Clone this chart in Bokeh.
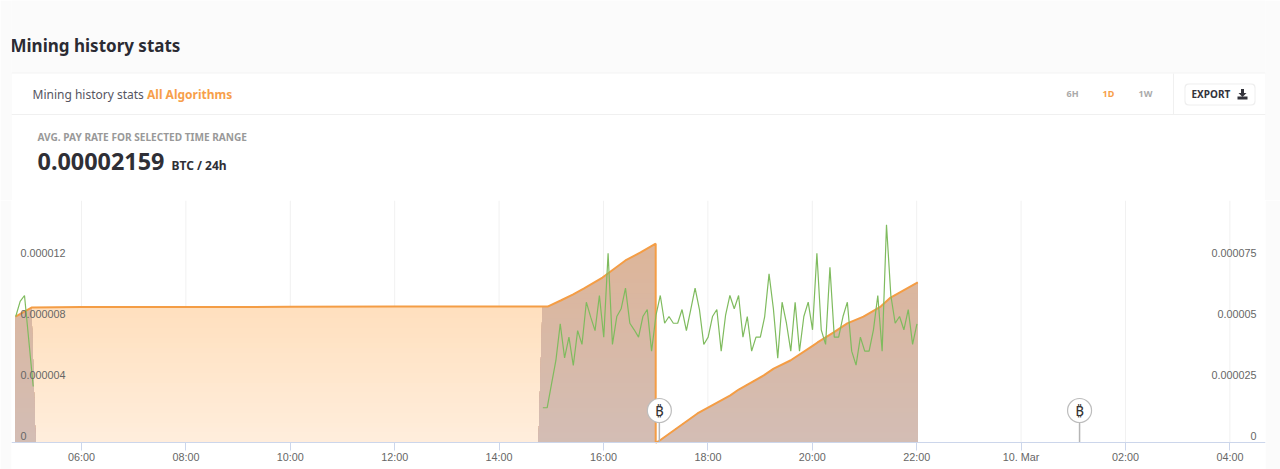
import numpy as np
from bokeh.core.properties import value
from bokeh.embed import file_html
from bokeh.layouts import column
from bokeh.models import FixedTicker, LinearAxis, Range1d
from bokeh.plotting import figure
from bokeh.resources import INLINE

# ---- data ----
X_TICKS = [6, 8, 10, 12, 14, 16, 18, 20, 22, 24, 26, 28]
X_LABELS = ["06:00", "08:00", "10:00", "12:00", "14:00", "16:00", "18:00", "20:00", "22:00", "10. Mar", "02:00", "04:00"]
LEFT_TICKS = [0, 4e-6, 8e-6, 12e-6]
LEFT_LABELS = ["0", "0.000004", "0.000008", "0.000012"]
RIGHT_TICKS = [0, 25e-6, 50e-6, 75e-6]
RIGHT_LABELS = ["0", "0.000025", "0.00005", "0.000075"]

ORANGE_H = [4.736, 5.042, 6.0, 8.0, 10.0, 12.0, 14.0, 14.93, 15.18, 15.42, 15.62, 15.98, 16.42, 16.71, 17.0,
            17.0, 17.05, 17.8, 18.43, 18.59, 19.07, 19.26, 19.58, 20.02, 20.1, 20.41, 20.67, 20.98, 21.31, 21.5, 22.02]
ORANGE_V = [5.16, 5.53, 5.55, 5.55, 5.56, 5.57, 5.57, 5.57, 5.82, 6.07, 6.31, 6.76, 7.46, 7.79, 8.15,
            0.0, 0.04, 1.19, 1.93, 2.17, 2.75, 3.03, 3.36, 3.98, 4.10, 4.51, 4.88, 5.16, 5.57, 5.94, 6.56]

BROWN_H = [4.736, 5.042, 5.12, 14.755, 14.83, 14.93, 15.18, 15.42, 15.62, 15.98, 16.42, 16.71, 17.0,
           17.0, 17.05, 17.8, 18.43, 18.59, 19.07, 19.26, 19.58, 20.02, 20.1, 20.41, 20.67, 20.98, 21.31, 21.5, 22.02]
BROWN_V = [5.16, 5.53, 0.0, 0.0, 5.57, 5.57, 5.82, 6.07, 6.31, 6.76, 7.46, 7.79, 8.15,
           0.0, 0.04, 1.19, 1.93, 2.17, 2.75, 3.03, 3.36, 3.98, 4.10, 4.51, 4.88, 5.16, 5.57, 5.94, 6.56]

GREEN_A_H = [4.74, 4.825, 4.908, 5.075]
GREEN_A_V = [8.26, 9.25, 9.64, 3.67]
GREEN_B_START = 14.838
GREEN_B_STEP = 1 / 12
GREEN_B_V = [2.28, 2.28, 3.85, 5.38, 7.78, 5.55, 6.91, 5.05, 7.34, 6.43, 9.2, 8.22, 7.34, 9.64, 6.91, 12.41,
             6.43, 8.26, 8.77, 10.12, 7.82, 7.39, 6.91, 8.26, 8.72, 5.99, 8.33, 9.64, 7.82, 8.26, 7.82, 7.82,
             8.72, 7.34, 8.72, 10.12, 8.72, 6.43, 6.91, 8.26, 8.72, 5.99,
             8.33, 9.64, 8.77, 9.64, 6.91, 8.26, 5.99, 6.91, 6.91, 8.26, 11.06, 8.77, 5.53, 9.2, 7.82, 5.99,
             9.2, 5.99, 8.26, 9.2, 7.39, 12.41, 7.39, 6.43, 11.49, 6.91, 6.91, 8.26, 9.2, 5.99, 5.07, 6.91,
             5.99, 5.99, 7.39, 9.64, 5.99, 14.27, 9.64, 7.82, 8.26, 7.39, 8.72, 6.43, 7.78]

FLAG_H = [17.07, 25.12]
FLAG_V = [2.1e-6, 2.1e-6]
FLAG_STEM = [1.3e-6, 1.3e-6]

# ---- styles / layout ----
PX_PER_H = 52.2
def px_to_h(px):
    return 6 + (px - 81) / PX_PER_H

PAGE_BG = "#fbfbfb"
LINE_ORANGE = "#f49d45"
GREEN = "#7fbb5e"
TICK_COL = "#666666"
AXIS_COL = "#ccd6eb"
SANS = "Noto Sans"
CHART_FONT = "Liberation Sans"
TICK_SIZE = "10.8px"
LEFT_PER_PX = 4e-6 / 61
RIGHT_PER_PX = 25e-6 / 61


def densify(h, v, levels):
    """Add the points where the series crosses each band edge, so clipped bands keep the outline."""
    xs, ys = [h[0]], [v[0]]
    for i in range(len(h) - 1):
        lo, hi = sorted((v[i], v[i + 1]))
        cross = [l for l in levels if lo < l < hi]
        cross.sort(reverse=v[i + 1] < v[i])
        for l in cross:
            xs.append(h[i] + (l - v[i]) / (v[i + 1] - v[i]) * (h[i + 1] - h[i]))
            ys.append(l)
        xs.append(h[i + 1])
        ys.append(v[i + 1])
    return np.array(xs), np.array(ys)


def hexmix(a, b, t):
    ca = [int(a[i:i + 2], 16) for i in (1, 3, 5)]
    cb = [int(b[i:i + 2], 16) for i in (1, 3, 5)]
    return "#%02x%02x%02x" % tuple(round(x + (y - x) * t) for x, y in zip(ca, cb))


def gradient_area(p, h, v, bottom_col, top_col, top_level):
    levels = list(np.linspace(0, top_level, 41)[1:])
    xs, ys = densify(h, v, levels)
    for l in reversed(levels):
        p.varea(xs * 1.0, y1=0 * xs, y2=np.minimum(ys, l) * 1e-5, y_range_name="right",
                fill_color=hexmix(bottom_col, top_col, l / top_level))


# ---- header ----
head = figure(width=1280, height=200, x_range=Range1d(11, 1265), y_range=Range1d(200, 0),
              toolbar_location=None, output_backend="svg",
              min_border_left=11, min_border_right=15, min_border_top=0, min_border_bottom=0,
              x_axis_location=None, y_axis_location=None,
              background_fill_color=PAGE_BG, border_fill_color=PAGE_BG, outline_line_color=None)
head.grid.visible = False
head.quad(left=[11], right=[1265], top=[72], bottom=[200], fill_color="#f3f3f3", line_color=None)
head.quad(left=[11], right=[1265], top=[73], bottom=[200], fill_color="#ffffff", line_color=None)
head.segment([11, 1173], [114, 73], [1265, 1173], [114, 114], line_color="#f0f0f0", line_width=1)
head.quad(left=[1184], right=[1255], top=[83], bottom=[105], fill_color="#eeeeee", line_color=None, border_radius=4)
head.quad(left=[1185], right=[1254], top=[84], bottom=[104], fill_color="#ffffff", line_color=None, border_radius=4)


def txt(x, y, s, size, col, bold=False, font=SANS):
    head.text([x], [y], text=[s], text_font=value(font), text_font_size=size, text_color=col,
              text_baseline="middle", text_font_style="bold" if bold else "normal")


txt(10, 45, "Mining history stats", "17px", "#2b2b33", True)
txt(32, 94, "Mining history stats", "12px", "#55555f")
txt(146.5, 94, "All Algorithms", "12px", "#f79f4a", True)
txt(37, 136.5, "AVG. PAY RATE FOR SELECTED TIME RANGE", "10.1px", "#999999", True)
txt(37, 161, "0.00002159", "23.4px", "#2f2f36", True)
txt(171, 165, "BTC / 24h", "12px", "#2f2f36", True)
txt(1066, 93, "6H", "9px", "#aaaaaa", True)
txt(1102, 93, "1D", "9px", "#f79f4a", True)
txt(1138, 93, "1W", "9px", "#aaaaaa", True)
txt(1191, 93.5, "EXPORT", "10px", "#33333b", True)
head.patch([1240.5, 1243.5, 1243.5, 1246, 1242, 1238, 1240.5], [88.5, 88.5, 92.5, 92.5, 96.5, 92.5, 92.5],
           fill_color="#33333b", line_color=None)
head.quad(left=[1237], right=[1247], top=[96], bottom=[99], fill_color="#33333b", line_color=None)

# ---- chart ----
BELOW_PX = 27
TOP_PX = 242
p = figure(width=1280, height=269, toolbar_location=None, output_backend="svg",
           x_range=Range1d(px_to_h(11), px_to_h(1265)),
           y_range=Range1d(-BELOW_PX * LEFT_PER_PX, TOP_PX * LEFT_PER_PX),
           x_axis_location=None, y_axis_location=None,
           min_border_left=11, min_border_right=15, min_border_top=0, min_border_bottom=0,
           background_fill_color="#ffffff", border_fill_color=PAGE_BG, outline_line_color=None)
p.grid.visible = False
p.extra_y_ranges = {"right": Range1d(-BELOW_PX * RIGHT_PER_PX, TOP_PX * RIGHT_PER_PX)}

# vertical grid lines stop at the axis
p.segment(X_TICKS, [0] * len(X_TICKS), X_TICKS, [TOP_PX * LEFT_PER_PX] * len(X_TICKS),
          line_color="#f1f1f1", line_width=1, level="underlay")

gradient_area(p, np.array(ORANGE_H), np.array(ORANGE_V), "#ffeedd", "#ffd9b0", 8.15)
gradient_area(p, np.array(BROWN_H), np.array(BROWN_V), "#d3bdb5", "#ddb599", 8.15)

p.line(ORANGE_H, np.array(ORANGE_V) * 1e-5, y_range_name="right", line_color=LINE_ORANGE, line_width=2)
p.line(GREEN_A_H, np.array(GREEN_A_V) * 1e-6, line_color=GREEN, line_width=1.2)
green_h = GREEN_B_START + GREEN_B_STEP * np.arange(len(GREEN_B_V))
p.line(green_h, np.array(GREEN_B_V) * 1e-6, line_color=GREEN, line_width=1.2)

p.segment(FLAG_H, [0, 0], FLAG_H, FLAG_STEM, line_color="#b5b5b5", line_width=1.5)
p.scatter(FLAG_H, FLAG_V, marker="circle", size=24, fill_color="#ffffff", line_color="#bdbdbd", line_width=1.2)
p.text(FLAG_H, FLAG_V, text=["₿", "₿"], text_font=value("Noto Sans"), text_font_size="15px", text_color="#333333",
       text_align="center", text_baseline="middle")

xaxis = LinearAxis(fixed_location=0, ticker=FixedTicker(ticks=X_TICKS),
                   major_label_overrides=dict(zip(X_TICKS, X_LABELS)),
                   axis_line_color=AXIS_COL, major_tick_line_color=AXIS_COL,
                   major_tick_in=0, major_tick_out=8, minor_tick_line_color=None,
                   major_label_standoff=0, major_label_text_font=CHART_FONT,
                   major_label_text_font_size=TICK_SIZE, major_label_text_color=TICK_COL)
p.add_layout(xaxis, "below")

# y-axis labels sit inside the plot, just above their tick level
p.text([px_to_h(20)] * 4, LEFT_TICKS, text=LEFT_LABELS, text_font=value(CHART_FONT), text_font_size=TICK_SIZE,
       text_color=TICK_COL, text_align="left", text_baseline="bottom", y_offset=-3)
p.text([px_to_h(1256)] * 4, RIGHT_TICKS, text=RIGHT_LABELS, y_range_name="right", text_font=value(CHART_FONT),
       text_font_size=TICK_SIZE, text_color=TICK_COL, text_align="right", text_baseline="bottom", y_offset=-3)

layout = column(head, p, spacing=0)
open("out.html", "w").write(file_html(layout, INLINE))
